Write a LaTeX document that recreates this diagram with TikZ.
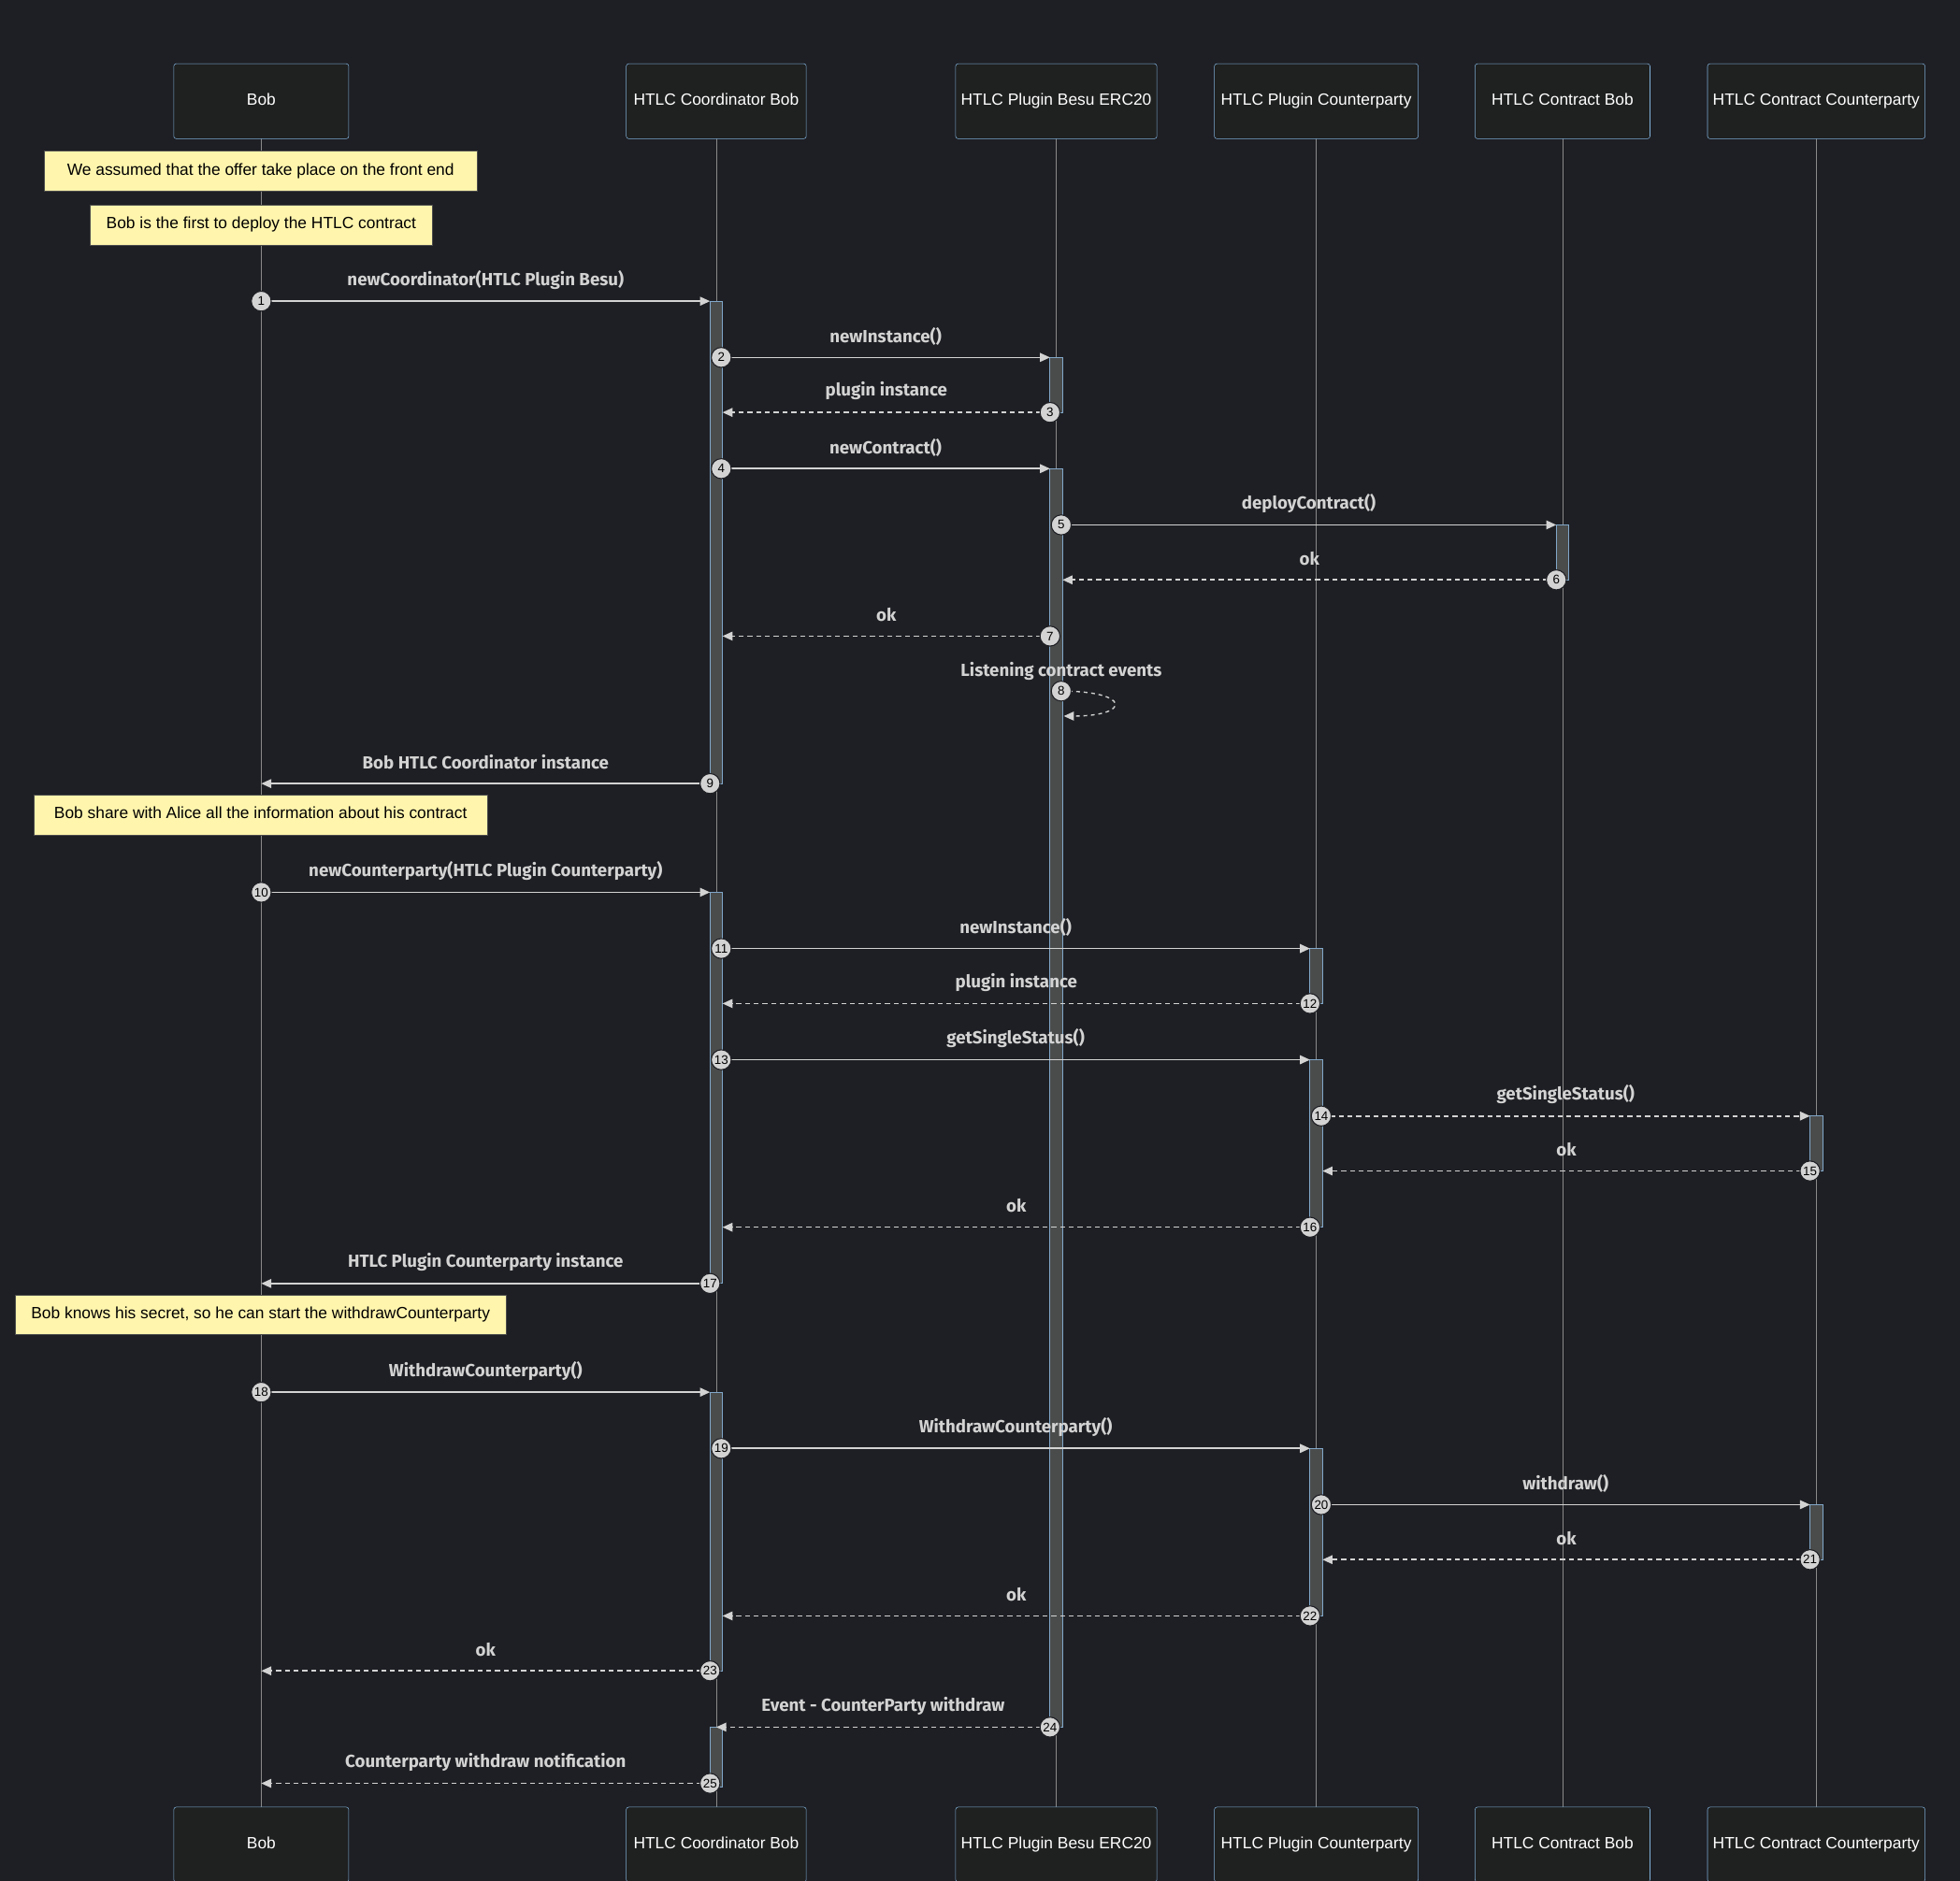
\documentclass[tikz,border=0pt]{standalone}
\usepackage{fontspec}
\setmainfont{Liberation Sans}
\newfontfamily\lblfont{Fira Sans}
\usetikzlibrary{arrows.meta}
\definecolor{bg}{HTML}{1E1F24}
\definecolor{boxfill}{HTML}{1F2020}
\definecolor{boxline}{HTML}{81B1DB}
\definecolor{lifeline}{HTML}{8A8A8A}
\definecolor{msgcol}{HTML}{D3D3D3}
\definecolor{notefill}{HTML}{FFF5AD}
\definecolor{actfill}{HTML}{4A4C4C}
\tikzset{
  actor/.style={draw=boxline,fill=boxfill,rounded corners=2pt,minimum height=60pt,text=white,font=\fontsize{13}{15}\selectfont,inner sep=0pt,text height=9pt,text depth=2pt},
  note/.style={draw=black!70,fill=notefill,text=black,minimum height=32pt,font=\fontsize{13}{15}\selectfont,inner sep=0pt,text height=9pt,text depth=3pt},
  act/.style={draw=boxline!80!gray,fill=actfill,line width=0.7pt},
  msgline/.style={draw=msgcol,line width=1.2pt,-{Triangle[length=8pt,width=7pt]}},
  solidmsg/.style={},
  dashmsg/.style={dash pattern=on 4pt off 3pt},
  numc/.style={circle,fill=msgcol,draw=bg,line width=0.8pt,minimum size=16pt,inner sep=0pt,text=black,font=\fontsize{10}{10}\selectfont},
  lbl/.style={text=msgcol,font=\lblfont\bfseries\fontsize{14}{16}\selectfont}
}
\begin{document}
\begin{tikzpicture}[x=1pt,y=-1pt]
\fill[bg] (0,0) rectangle (1568,1505);
\useasboundingbox (0,0) rectangle (1568,1505);
% lifelines
\foreach \nm/\x/\l/\r/\t in {bob/209/139/279/Bob,coord/573/501/645/HTLC Coordinator Bob,besu/845/764/925/HTLC Plugin Besu ERC20,cp/1053/971/1134/HTLC Plugin Counterparty,cb/1250/1180/1320/HTLC Contract Bob,ccp/1453/1366/1540/HTLC Contract Counterparty}{
  \draw[lifeline,line width=0.6pt] (\x,111) -- (\x,1446);
  \node[actor,minimum width={\r-\l}] (\nm top) at (\x,81) {\t};
  \node[actor,minimum width={\r-\l}] (\nm bot) at (\x,1476) {\t};
}
% activations
\foreach \x/\a/\b in {573/241/627,573/714/1027,573/1114/1337,573/1382/1430,845/286/330,845/375/1382,1250/420/464,1053/759/803,1053/848/982,1053/1159/1293,1453/893/937,1453/1204/1248}{
  \draw[act] (\x-5,\a) rectangle (\x+5,\b);
}
% notes
\node[note,minimum width=347pt] (n1) at (208.5,137) {We assumed that the offer take place on the front end};
\node[note,minimum width=274pt] (n2) at (209,180) {Bob is the first to deploy the HTLC contract};
\node[note,minimum width=363pt] (n3) at (208.5,652) {Bob share with Alice all the information about his contract};
\node[note,minimum width=393pt] (n4) at (208.5,1052) {Bob knows his secret, so he can start the withdrawCounterparty};
% messages
\foreach \y/\xa/\xb/\n/\t/\st in {
 241/209/568/1/{newCoordinator(HTLC Plugin Besu)}/solidmsg,
 286/577/840/2/{newInstance()}/solidmsg,
 330/840/578/3/{plugin instance}/dashmsg,
 375/577/840/4/{newContract()}/solidmsg,
 420/849/1245/5/{deployContract()}/solidmsg,
 464/1245/850/6/{ok}/dashmsg,
 509/840/578/7/{ok}/dashmsg,
 627/568/209/9/{Bob HTLC Coordinator instance}/solidmsg,
 714/209/568/10/{newCounterparty(HTLC Plugin Counterparty)}/solidmsg,
 759/577/1048/11/{newInstance()}/solidmsg,
 803/1048/578/12/{plugin instance}/dashmsg,
 848/577/1048/13/{getSingleStatus()}/solidmsg,
 893/1057/1448/14/{getSingleStatus()}/dashmsg,
 937/1448/1058/15/{ok}/dashmsg,
 982/1048/578/16/{ok}/dashmsg,
 1027/568/209/17/{HTLC Plugin Counterparty instance}/solidmsg,
 1114/209/568/18/{WithdrawCounterparty()}/solidmsg,
 1159/577/1048/19/{WithdrawCounterparty()}/solidmsg,
 1204/1057/1448/20/{withdraw()}/solidmsg,
 1248/1448/1058/21/{ok}/dashmsg,
 1293/1048/578/22/{ok}/dashmsg,
 1337/568/209/23/{ok}/dashmsg,
 1382/840/573/24/{Event - CounterParty withdraw}/dashmsg,
 1427/568/209/25/{Counterparty withdraw notification}/dashmsg}{
  \coordinate (s\n) at (\xa,\y);
  \coordinate (e\n) at (\xb,\y);
  \draw[msgline,\st] (s\n) -- (e\n);
  \node[lbl] (l\n) at ({(\xa+\xb)/2},\y-17) {\t};
  \node[numc] (c\n) at (s\n) {\n};
}
% self message 8
\node[lbl] (l8) at (849,537) {Listening contract events};
\coordinate (s8) at (849,553);
\coordinate (e8) at (851,573);
\draw[msgline,dash pattern=on 3pt off 3pt,line width=1pt] (s8) .. controls (905,553) and (905,573) .. (e8);
\node[numc] (c8) at (s8) {8};
\end{tikzpicture}
\end{document}
